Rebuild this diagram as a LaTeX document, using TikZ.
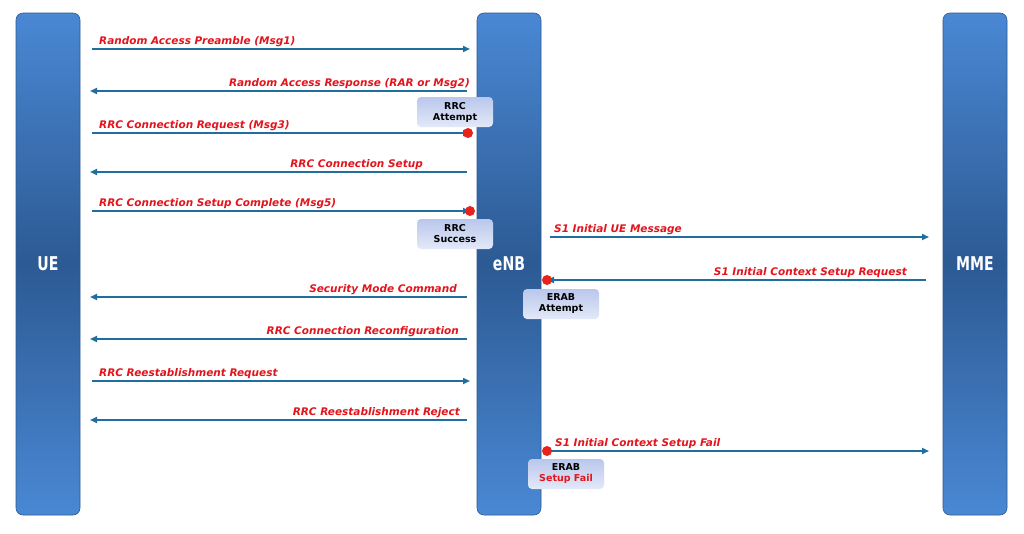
\documentclass[tikz,border=0pt]{standalone}
\usepackage{fontspec}
\setmainfont{DejaVu Sans}
\newfontfamily\lifefont{DejaVu Sans}[FakeStretch=0.74]
\usetikzlibrary{arrows.meta}

\definecolor{msgred}{HTML}{E3141C}
\definecolor{arrowblue}{HTML}{1F6E9E}
\definecolor{lifelight}{HTML}{4A88D4}
\definecolor{lifedark}{HTML}{2C5A93}
\definecolor{boxtop}{HTML}{BAC7EC}
\definecolor{boxbot}{HTML}{E3E9F8}
\definecolor{dotred}{HTML}{E8231B}

\tikzset{
  lifeline/.style={rounded corners=7pt, draw=lifedark, line width=0.6pt,
    top color=lifelight, bottom color=lifelight, middle color=lifedark,
    minimum width=64pt, minimum height=502pt, inner sep=0pt,
    text=white, font=\lifefont\bfseries\fontsize{19}{19}\selectfont},
  msg/.style={arrowblue, line width=1.9pt, -{Triangle[length=7pt,width=6pt]}},
  msglabel/.style={text=msgred, inner sep=0pt,
    font=\bfseries\itshape\fontsize{10.5}{12}\selectfont},
  statebox/.style={rounded corners=4pt, top color=boxtop, bottom color=boxbot,
    minimum width=76pt, minimum height=30pt, inner sep=1pt, align=center,
    font=\bfseries\fontsize{9.5}{11}\selectfont},
  reddot/.style={circle, fill=dotred, minimum size=10pt, inner sep=0pt}
}

\begin{document}
\begin{tikzpicture}[x=1pt, y=-1pt]
    \useasboundingbox (0,0) rectangle (1024,533);
    \fill[white] (0,0) rectangle (1024,533);

    % Entidades (linhas de vida)
    \node[lifeline] (ue)  at (48,264)  {UE};
    \node[lifeline] (enb) at (509,264) {eNB};
    \node[lifeline] (mme) at (975,264) {MME};

    % Mensagens UE -> eNB: y/{Texto}
    \foreach \y/\txt [count=\i] in {49/{Random Access Preamble (Msg1)}, 133/{RRC Connection Request (Msg3)},
        211/{RRC Connection Setup Complete (Msg5)}, 381/{RRC Reestablishment Request}} {
        \coordinate (ueR\i) at (92,\y);
        \coordinate (enbR\i) at (470,\y);
        \draw[msg] (ueR\i) -- (enbR\i);
        \node[msglabel, anchor=base west] (lblR\i) at (99,\y-4.5) {\txt};
    }

    % Mensagens eNB -> UE: y/fim do texto/{Texto}
    \foreach \y/\lx/\txt [count=\i] in {91/470/{Random Access Response (RAR or Msg2)}, 172/423/{RRC Connection Setup},
        297/457/{Security Mode Command}, 339/459/{RRC Connection Reconfiguration}, 420/460/{RRC Reestablishment Reject}} {
        \coordinate (enbL\i) at (467,\y);
        \coordinate (ueL\i) at (90,\y);
        \draw[msg] (enbL\i) -- (ueL\i);
        \node[msglabel, anchor=base east] (lblL\i) at (\lx,\y-4.5) {\txt};
    }

    % Mensagens S1 (eNB <-> MME)
    \coordinate (s1a) at (550,237);
    \coordinate (s1b) at (929,237);
    \draw[msg] (s1a) -- (s1b);
    \node[msglabel, anchor=base west] (lblS1a) at (554,232.5) {S1 Initial UE Message};

    \coordinate (s2a) at (926,280);
    \coordinate (s2b) at (547,280);
    \draw[msg] (s2a) -- (s2b);
    \node[msglabel, anchor=base east] (lblS1b) at (907,275.5) {S1 Initial Context Setup Request};

    \coordinate (s3a) at (550,451);
    \coordinate (s3b) at (929,451);
    \draw[msg] (s3a) -- (s3b);
    \node[msglabel, anchor=base west] (lblS1c) at (555,446.5) {S1 Initial Context Setup Fail};

    % Caixas de estado
    \node[statebox] (rrcAtt)  at (455,112) {RRC\\Attempt};
    \node[statebox] (rrcSucc) at (455,234) {RRC\\Success};
    \node[statebox] (erabAtt) at (561,304) {ERAB\\Attempt};
    \node[statebox] (erabFail) at (566,474) {ERAB\\\textcolor{msgred}{Setup Fail}};

    % Pontos vermelhos
    \node[reddot] (dot1) at (468,133) {};
    \node[reddot] (dot2) at (470,211) {};
    \node[reddot] (dot3) at (547,280) {};
    \node[reddot] (dot4) at (547,451) {};
\end{tikzpicture}
\end{document}
